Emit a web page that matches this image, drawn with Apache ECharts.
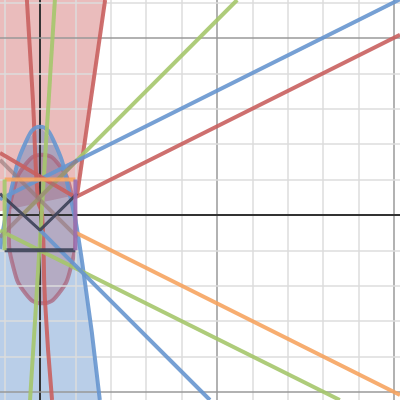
<!DOCTYPE html>
<html><head><meta charset="utf-8">
<script src="https://cdn.jsdelivr.net/npm/echarts@6/dist/echarts.min.js"></script>
<style>html,body{margin:0;background:#fff}#c{width:400px;height:400px}</style>
</head><body><div id="c"></div>
<script>
// view window (graph units)
const xMin = -1.13, xMax = 10.17, yMin = -5.23, yMax = 6.07;

// curves
const parabola = [[-1.13,-0.96],[-0.8,0.76],[-0.4,2.06],[0,2.49],[0.4,2.06],[0.8,0.76],[1.2,-1.4],[1.69,-5.23]];
const ellipse = [[1.0,-0.4],[0.88,0.65],[0.53,1.42],[0.06,1.7],[-0.41,1.42],[-0.76,0.65],[-0.88,-0.4],[-0.76,-1.45],[-0.41,-2.22],[0.06,-2.5],[0.53,-2.22],[0.88,-1.45]];
const redRegion = [[-1.13,6.07],[1.84,6.07],[1.05,0.57],[-1.13,0.1]];
const redCurve = [[-0.37,6.07],[-0.2,3.25],[-0.06,0.42],[0.06,0],[0.14,-2.4],[0.34,-5.23]];
const greenSteep = [[0.42,6.07],[-0.28,-5.23]];
const greenUp = [[-0.5,0],[5.57,6.07]];
const blueUp = [[-1.13,0.44],[10.17,6.09]];
const redUp = [[-1.13,1.75],[1.0,0.5],[10.17,5.09]];
const orangeDown = [[1.0,-0.5],[10.17,-5.09]];
const greenDown = [[-1.13,-0.44],[8.47,-5.23]];
const blueDown = [[0,-0.43],[4.8,-5.23]];
const darkV = [[-1.13,0.6],[0,-0.43],[1.05,0.6]];
const lightX1 = [[-1.13,1.55],[1.05,-0.63]];
const lightX2 = [[-1.13,-0.63],[1.05,1.55]];
const boxTop = [[-1,1],[1,1]], boxBottom = [[-1,-1],[1,-1]];
const boxLeft = [[-1,1],[-1,-1]], boxRight = [[1,1],[1,-1]];

const red = '#c9605f', blue = '#6796cf', green = '#a5c66c', orange = '#f6a460', dark = '#3c4158';

const gridX = [], gridY = [];
for (let i = -1; i <= 10; i++) gridX.push(i);
for (let i = -5; i <= 6; i++) gridY.push(i);

function line(data, color, w, smooth) {
  return { type: 'line', data, symbol: 'none', smooth: smooth || false, lineStyle: { color, width: w || 4, opacity: 0.9 }, z: 5 };
}
function poly(pts, fill, stroke, smooth) {
  return {
    type: 'custom', data: [0], z: 3,
    renderItem: (p, api) => ({
      type: 'polygon',
      shape: { points: pts.map(q => api.coord(q)), smooth: smooth || 0 },
      style: { fill, stroke: stroke || null, lineWidth: 4 }
    })
  };
}
function gridLines() {
  const lines = [];
  gridX.forEach(x => lines.push([{ coord: [x, yMin] }, { coord: [x, yMax], lineStyle: { color: x === 0 ? '#333' : x % 5 === 0 ? '#999' : '#ddd', width: x === 0 ? 2 : 1.5 } }]));
  gridY.forEach(y => lines.push([{ coord: [xMin, y] }, { coord: [xMax, y], lineStyle: { color: y === 0 ? '#333' : y % 5 === 0 ? '#999' : '#ddd', width: y === 0 ? 2 : 1.5 } }]));
  return { type: 'line', data: [], z: 1, markLine: { silent: true, symbol: 'none', label: { show: false }, lineStyle: { type: 'solid' }, data: lines } };
}

const chart = echarts.init(document.getElementById('c'));
chart.setOption({
  animation: false,
  grid: { left: 0, right: 0, top: 0, bottom: 0 },
  xAxis: { type: 'value', min: xMin, max: xMax, show: false },
  yAxis: { type: 'value', min: yMin, max: yMax, show: false },
  series: [
    gridLines(),
    poly(redRegion, 'rgba(200,80,80,0.38)'),
    poly(parabola.concat([[1.69,-5.23],[-1.13,-5.23]]), 'rgba(70,125,195,0.38)'),
    poly(ellipse, 'rgba(170,90,110,0.3)', 'rgba(170,95,120,0.7)', 0.5),
    line([[1.84,6.07],[1.05,0.57]], red),
    line(redCurve, red, 4, true),
    line(parabola, blue, 4, true),
    line(greenSteep, green), line(greenUp, green), line(blueUp, blue), line(redUp, red),
    line(orangeDown, orange), line(greenDown, green), line(blueDown, blue),
    line(lightX1, 'rgba(150,120,120,0.7)'), line(lightX2, 'rgba(150,120,120,0.7)'),
    line(darkV, dark, 3),
    line(boxTop, orange), line(boxBottom, dark), line(boxLeft, green), line(boxRight, '#9a6fb0')
  ]
});
</script></body></html>
